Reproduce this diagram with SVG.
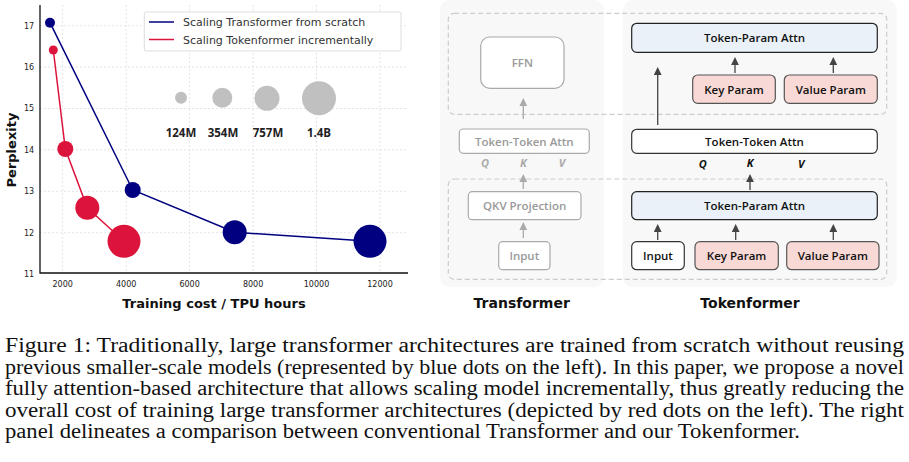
<svg xmlns="http://www.w3.org/2000/svg" width="909" height="462" viewBox="0 0 909 462">
<style>
.tick{font-family:"DejaVu Sans",sans-serif;font-size:8px;fill:#222}
.grid{stroke:#ddd;stroke-width:0.8;stroke-dasharray:2,2}
.ax{font-family:"DejaVu Sans",sans-serif;font-weight:bold;font-size:13px;fill:#111}
.leg{font-family:"DejaVu Sans",sans-serif;font-size:11px;fill:#333}
.sz{font-family:"Open Sans",sans-serif;font-weight:bold;font-size:11.5px;fill:#222}
.g{fill:#fff;stroke:#aaa;stroke-width:1.2}
.gt{font-family:"Open Sans",sans-serif;font-weight:600;font-size:11.5px;fill:#999;text-anchor:middle}
.d{fill:#fff;stroke:#333;stroke-width:1.2}
.blue{fill:#eaf1f8;stroke:#222;stroke-width:1.2}
.pink{fill:#f9d9d6;stroke:#555;stroke-width:1.2}
.dt{font-family:"Open Sans",sans-serif;font-weight:600;font-size:11.5px;fill:#111;text-anchor:middle}
.qkv{font-family:"Open Sans",sans-serif;font-weight:bold;font-style:italic;font-size:11px;text-anchor:middle}
.dash{fill:none;stroke:#ccc;stroke-width:1.2;stroke-dasharray:5,3}
.cap{font-family:"Liberation Serif","Times New Roman",serif;font-size:20px;fill:#111}
.ttl{font-family:"DejaVu Sans",sans-serif;font-weight:bold;font-size:14px;fill:#111;text-anchor:middle}
</style>
<defs>
<marker id="ag" markerWidth="6" markerHeight="6" refX="3" refY="3" orient="auto"><path d="M0,0 L6,3 L0,6 z" fill="#aaa"/></marker>
<marker id="ad" markerWidth="6" markerHeight="6" refX="3" refY="3" orient="auto"><path d="M0,0 L6,3 L0,6 z" fill="#444"/></marker>
</defs>
<rect width="909" height="462" fill="#fff"/>
<g id="plot">
<g>
<line class="grid" x1="62.7" y1="5" x2="62.7" y2="273"/><line class="grid" x1="126.2" y1="5" x2="126.2" y2="273"/><line class="grid" x1="189.6" y1="5" x2="189.6" y2="273"/><line class="grid" x1="253.1" y1="5" x2="253.1" y2="273"/><line class="grid" x1="316.5" y1="5" x2="316.5" y2="273"/><line class="grid" x1="380" y1="5" x2="380" y2="273"/>
<line class="grid" x1="40" y1="25.7" x2="408" y2="25.7"/><line class="grid" x1="40" y1="67.1" x2="408" y2="67.1"/><line class="grid" x1="40" y1="108.5" x2="408" y2="108.5"/><line class="grid" x1="40" y1="149.9" x2="408" y2="149.9"/><line class="grid" x1="40" y1="191.3" x2="408" y2="191.3"/><line class="grid" x1="40" y1="232.7" x2="408" y2="232.7"/>
</g>
<path d="M40,5 V273 H408" fill="none" stroke="#111" stroke-width="1.3"/>
<g class="tick" text-anchor="middle">
<text x="29" y="28.5">17</text><text x="29" y="69.9">16</text><text x="29" y="111.3">15</text><text x="29" y="152.7">14</text><text x="29" y="194.1">13</text><text x="29" y="235.5">12</text><text x="29" y="276.9">11</text>
<text x="62.7" y="287">2000</text><text x="126.2" y="287">4000</text><text x="189.6" y="287">6000</text><text x="253.1" y="287">8000</text><text x="316.5" y="287">10000</text><text x="380" y="287">12000</text>
</g>
<text class="ax" x="214" y="308" text-anchor="middle">Training cost / TPU hours</text>
<text class="ax" transform="translate(16,150) rotate(-90)" text-anchor="middle">Perplexity</text>
<polyline points="50,22.7 132.7,190 234.7,232.3 370,241.3" fill="none" stroke="#000080" stroke-width="1.5"/>
<polyline points="53.3,50 65.3,149 87.3,207.7 124,241.3" fill="none" stroke="#dc143c" stroke-width="1.5"/>
<g fill="#000080"><circle cx="50" cy="22.7" r="5"/><circle cx="132.7" cy="190" r="8"/><circle cx="234.7" cy="232.3" r="12"/><circle cx="370" cy="241.3" r="16.5"/></g>
<g fill="#dc143c"><circle cx="53.3" cy="50" r="4.5"/><circle cx="65.3" cy="149" r="8"/><circle cx="87.3" cy="207.7" r="12"/><circle cx="124" cy="241.3" r="16.5"/></g>
<g fill="#c0c0c0"><circle cx="181" cy="97.7" r="6"/><circle cx="222.3" cy="97.7" r="10"/><circle cx="267" cy="98.3" r="12.5"/><circle cx="319" cy="98.3" r="17"/></g>
<g class="sz" text-anchor="middle"><text x="181" y="137">124M</text><text x="223" y="137">354M</text><text x="268" y="137">757M</text><text x="319" y="137">1.4B</text></g>
<rect x="144.3" y="12" width="256.7" height="39" rx="2" fill="#fff" stroke="#ddd"/>
<line x1="149" y1="22" x2="174" y2="22" stroke="#000080" stroke-width="1.5"/>
<line x1="149" y1="39.5" x2="174" y2="39.5" stroke="#dc143c" stroke-width="1.5"/>
<text class="leg" x="183" y="26">Scaling Transformer from scratch</text>
<text class="leg" x="183" y="43.5">Scaling Tokenformer incrementally</text>
</g>
<g id="panels">
<rect x="440" y="0" width="164" height="287" rx="10" fill="#f8f8f8"/>
<rect x="622.7" y="0" width="274" height="287" rx="10" fill="#f8f8f8"/>
<rect class="dash" x="448.3" y="13.3" width="438.4" height="101" rx="6"/>
<rect class="dash" x="448.3" y="179" width="438.4" height="100.3" rx="6"/>
</g>
<g id="t-ffn"><rect class="g" x="480.7" y="37" width="83.3" height="51.3" rx="9"/><text class="gt" x="522.3" y="67">FFN</text></g>
<g id="t-tt"><rect class="g" x="459.3" y="129" width="130" height="24.3" rx="4"/><text class="gt" x="524.3" y="145.5">Token-Token Attn</text></g>
<g id="t-qkvlab" class="qkv" fill="#aaa"><text x="485" y="167">Q</text><text x="523.3" y="167">K</text><text x="562" y="167">V</text></g>
<g id="t-proj"><rect class="g" x="468.3" y="191.7" width="112.7" height="28" rx="4"/><text class="gt" x="524.6" y="210">QKV Projection</text></g>
<g id="t-in"><rect class="g" x="498.7" y="241.7" width="51.3" height="28" rx="4"/><text class="gt" x="524.3" y="260">Input</text></g>
<g id="k-tp1"><rect class="blue" x="631.7" y="23.3" width="245.6" height="29" rx="5"/><text class="dt" x="754.5" y="42">Token-Param Attn</text></g>
<g id="k-kp1"><rect class="pink" x="692.7" y="75" width="82.6" height="28.3" rx="5"/><text class="dt" x="734" y="93.5">Key Param</text></g>
<g id="k-vp1"><rect class="pink" x="784.3" y="75" width="93" height="28.3" rx="5"/><text class="dt" x="830.8" y="93.5">Value Param</text></g>
<g id="k-tt"><rect class="d" x="631.7" y="129.3" width="245.6" height="24" rx="5"/><text class="dt" x="754.5" y="145.5">Token-Token Attn</text></g>
<g id="k-qkvlab" class="qkv" fill="#111"><text x="702.7" y="168">Q</text><text x="750" y="167">K</text><text x="801.3" y="168">V</text></g>
<g id="k-tp2"><rect class="blue" x="631.7" y="191.7" width="245.6" height="28" rx="5"/><text class="dt" x="754.5" y="210">Token-Param Attn</text></g>
<g id="k-in"><rect class="d" x="631.7" y="241.7" width="52.6" height="28" rx="5"/><text class="dt" x="658" y="260">Input</text></g>
<g id="k-kp2"><rect class="pink" x="695" y="241.7" width="83.3" height="28" rx="5"/><text class="dt" x="736.6" y="260">Key Param</text></g>
<g id="k-vp2"><rect class="pink" x="786.7" y="241.7" width="92.3" height="28" rx="5"/><text class="dt" x="832.8" y="260">Value Param</text></g>
<g id="connectors" stroke-width="1.3">
<line x1="523.3" y1="119" x2="523.3" y2="102" stroke="#aaa" marker-end="url(#ag)"/>
<line x1="523.3" y1="189" x2="523.3" y2="178" stroke="#aaa" marker-end="url(#ag)"/>
<line x1="523.3" y1="238" x2="523.3" y2="226" stroke="#aaa" marker-end="url(#ag)"/>
<line x1="735" y1="73" x2="735" y2="61" stroke="#444" marker-end="url(#ad)"/>
<line x1="833.3" y1="73" x2="833.3" y2="61" stroke="#444" marker-end="url(#ad)"/>
<line x1="657.7" y1="125" x2="657.7" y2="71" stroke="#444" marker-end="url(#ad)"/>
<line x1="750" y1="190" x2="750" y2="178" stroke="#444" marker-end="url(#ad)"/>
<line x1="657.7" y1="240" x2="657.7" y2="228" stroke="#444" marker-end="url(#ad)"/>
<line x1="735.7" y1="240" x2="735.7" y2="228" stroke="#444" marker-end="url(#ad)"/>
<line x1="833.3" y1="240" x2="833.3" y2="228" stroke="#444" marker-end="url(#ad)"/>
</g>
<text class="ttl" x="521.7" y="308">Transformer</text>
<text class="ttl" x="750" y="308">Tokenformer</text>
<g class="cap">
<text x="5" y="352" textLength="899" lengthAdjust="spacingAndGlyphs">Figure 1: Traditionally, large transformer architectures are trained from scratch without reusing</text>
<text x="5" y="373.5" textLength="899" lengthAdjust="spacingAndGlyphs">previous smaller-scale models (represented by blue dots on the left). In this paper, we propose a novel</text>
<text x="5" y="395" textLength="899" lengthAdjust="spacingAndGlyphs">fully attention-based architecture that allows scaling model incrementally, thus greatly reducing the</text>
<text x="5" y="416.5" textLength="899" lengthAdjust="spacingAndGlyphs">overall cost of training large transformer architectures (depicted by red dots on the left). The right</text>
<text x="5" y="438" textLength="795" lengthAdjust="spacingAndGlyphs">panel delineates a comparison between conventional Transformer and our Tokenformer.</text>
</g>
</svg>
